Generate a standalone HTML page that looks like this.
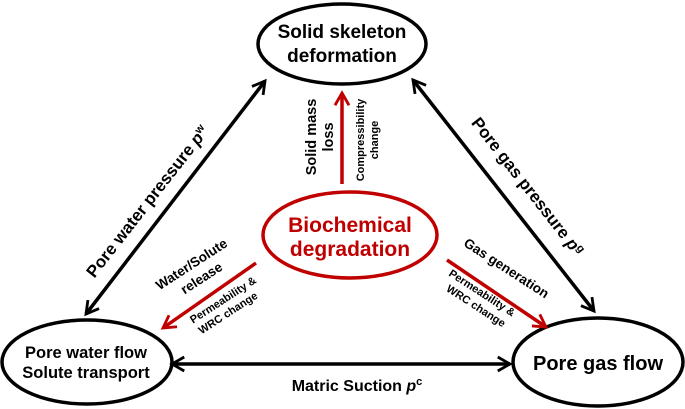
<!DOCTYPE html>
<html><head><meta charset="utf-8"><style>
html,body{margin:0;padding:0;background:#fff;}
svg{display:block;font-family:"Liberation Sans",Arial,sans-serif;font-weight:bold;}
</style></head><body>
<svg width="685" height="409" viewBox="0 0 685 409" xmlns="http://www.w3.org/2000/svg">
<defs>
<marker id="ab" viewBox="0 0 10 10" refX="8" refY="5" markerWidth="5" markerHeight="5" orient="auto-start-reverse" markerUnits="strokeWidth">
<path d="M1,1 L8,5 L1,9" fill="none" stroke="#000" stroke-width="1.6"/></marker>
<marker id="ar" viewBox="0 0 10 10" refX="8" refY="5" markerWidth="5" markerHeight="5" orient="auto" markerUnits="strokeWidth">
<path d="M1,1 L8,5 L1,9" fill="none" stroke="#c00000" stroke-width="1.6"/></marker>
</defs>
<g fill="none" stroke-width="3.5">
<ellipse cx="342" cy="44" rx="84" ry="40" stroke="#000"/>
<ellipse cx="87" cy="362" rx="85" ry="42" stroke="#000"/>
<ellipse cx="598" cy="362" rx="85" ry="44" stroke="#000"/>
<ellipse cx="350" cy="235" rx="87" ry="43" stroke="#c00000"/>
<line x1="86" y1="314" x2="265" y2="81" stroke="#000" marker-start="url(#ab)" marker-end="url(#ab)"/>
<line x1="413" y1="80" x2="594" y2="311" stroke="#000" marker-start="url(#ab)" marker-end="url(#ab)"/>
<line x1="172" y1="364" x2="510" y2="364" stroke="#000" marker-start="url(#ab)" marker-end="url(#ab)"/>
<line x1="342" y1="184" x2="342" y2="93" stroke="#c00000" marker-end="url(#ar)"/>
<line x1="256" y1="263" x2="163" y2="328" stroke="#c00000" marker-end="url(#ar)"/>
<line x1="447" y1="260" x2="546" y2="327" stroke="#c00000" marker-end="url(#ar)"/>
</g>
<g text-anchor="middle" fill="#000">
<text x="342" y="38" font-size="19">Solid skeleton</text>
<text x="342" y="62" font-size="19">deformation</text>
<text x="86" y="358" font-size="16.5">Pore water flow</text>
<text x="86" y="378" font-size="16.5">Solute transport</text>
<text x="598" y="370" font-size="20">Pore gas flow</text>
<text x="357" y="391" font-size="16">Matric Suction <tspan font-style="italic">p</tspan><tspan font-size="11" dy="-6">c</tspan></text>
<text transform="translate(152,205) rotate(-52)" font-size="17">Pore water pressure <tspan font-style="italic">p</tspan><tspan font-size="11" dy="-6">w</tspan></text>
<text transform="translate(523,190) rotate(52)" font-size="17">Pore gas pressure <tspan font-style="italic">p</tspan><tspan font-size="11" dy="-6">g</tspan></text>
<text transform="translate(316,137) rotate(-90)" font-size="14.5">Solid mass</text>
<text transform="translate(333,137) rotate(-90)" font-size="14.5">loss</text>
<text transform="translate(364,140) rotate(-90)" font-size="11">Compressibility</text>
<text transform="translate(378,140) rotate(-90)" font-size="11">change</text>
<text transform="translate(194,268) rotate(-33)" font-size="13.5">Water/Solute</text>
<text transform="translate(204,282) rotate(-33)" font-size="13.5">release</text>
<text transform="translate(225,303) rotate(-33)" font-size="11">Permeability &amp;</text>
<text transform="translate(230,316) rotate(-33)" font-size="11">WRC change</text>
<text transform="translate(504,272) rotate(33)" font-size="13.5">Gas generation</text>
<text transform="translate(480,296) rotate(33)" font-size="11">Permeability &amp;</text>
<text transform="translate(474,309) rotate(33)" font-size="11">WRC change</text>
</g>
<g text-anchor="middle" fill="#c00000" font-size="21">
<text x="350" y="232">Biochemical</text>
<text x="350" y="256">degradation</text>
</g>
</svg>
</body></html>
